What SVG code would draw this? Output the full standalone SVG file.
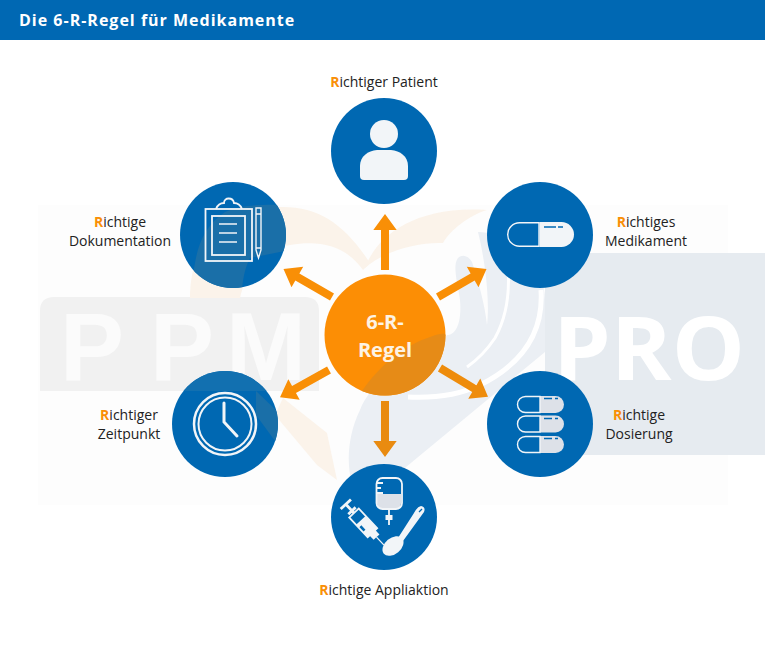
<svg xmlns="http://www.w3.org/2000/svg" width="765" height="660" viewBox="0 0 765 660">
<style>
text{font-family:"Open Sans","Liberation Sans",sans-serif}
.l{font-size:14px;fill:#222;text-anchor:middle}
.r{fill:#f98f06;font-weight:700}
.c{fill:#0068b2}
.i{fill:none;stroke:#f2f5f8;stroke-width:1.8}
.o{fill:none;stroke:#f2f5f8;stroke-width:1.400}
.f{fill:#f2f5f8}
.d{fill:#dde1e8}
.t{stroke:#0068b2;stroke-width:1.300;fill:none}
text.w{font-family:"Liberation Sans",sans-serif;fill:#fbfbfb;font-weight:700;font-size:96px}
.cream{fill:#fbf3ea}
</style>
<defs>
<path id="arrow" d="M-4 0V-40H-11.700L0-56 11.700-40H4V0Z"/>
<clipPath id="docClip"><circle cx="233" cy="235" r="53"/></clipPath>
<clipPath id="zeitClip"><circle cx="225" cy="424" r="53"/></clipPath>
</defs>
<rect width="765" height="660" fill="#fff"/>
<rect x="38" y="205" width="690" height="300" fill="#fdfdfd"/>
<g id="watermark">
<path d="M40 391V311Q40 297 54 297H305Q319 297 319 311V391Z" fill="#f1f1f1"/>
<path class="cream" d="M190 298C190 250 215 205 283 207C320 207 345 225 370 263L363 270C345 245 320 240 290 245C260 250 245 275 240 298Z"/>
<path class="cream" d="M365 268C375 240 410 205 487 210C470 215 450 230 443 243C420 242 385 250 365 268Z"/>
<path class="cream" d="M283 398L327 433 337 480 317 465 275 415Z"/>
<rect x="545" y="253" width="220" height="202" fill="#e6ebf0"/>
<path d="M478 232C515 232 545 270 545 300V352L400 472 360 500C345 480 345 440 360 410C370 385 395 365 440 345L447 335C455 335 462 325 460 300C458 285 452 265 458 258C462 254 468 255 472 262C478 280 485 305 487 325C490 300 485 260 478 232Z" fill="#ebeff4"/>
<path d="M508 268C510 295 505 320 495 338C487 350 477 360 467 367" fill="none" stroke="#fff" stroke-width="3"/>
<path d="M541 290C544 335 520 365 480 385C455 397 430 398 408 397" fill="none" stroke="#fff" stroke-width="5"/>
<text class="w" x="60" y="380" textLength="64" lengthAdjust="spacingAndGlyphs">P</text>
<text class="w" x="150" y="380" textLength="64" lengthAdjust="spacingAndGlyphs">P</text>
<text class="w" x="226" y="380" textLength="80" lengthAdjust="spacingAndGlyphs">M</text>
<text x="553" y="380" font-size="87" font-weight="700" fill="#fff" textLength="192" lengthAdjust="spacingAndGlyphs">PRO</text>
</g>
<g id="connectors" fill="#f98f06">
<use href="#arrow" transform="translate(385 270)"/>
<use href="#arrow" transform="translate(332 297) rotate(-60)"/>
<use href="#arrow" transform="translate(438 297) rotate(60)"/>
<use href="#arrow" transform="translate(329 370) rotate(-119)"/>
<use href="#arrow" transform="translate(440 368) rotate(121)" fill="#ee8c0c"/>
<use href="#arrow" transform="translate(385 401) rotate(180)" fill="#e98b10"/>
</g>
<g id="center"><circle cx="385" cy="335" r="60.500" fill="#fc8e05"/>
<path d="M362 391C380 365 405 345 430 337 440 333 445 333 445.500 335A60.500 60.500 0 0 1 362 391Z" fill="#e68b17"/>
<text x="385" y="329" text-anchor="middle" font-size="20" font-weight="700" fill="#fdf3e4">6-R-</text>
<text x="385" y="357" text-anchor="middle" font-size="20" font-weight="700" fill="#fdf3e4">Regel</text></g>
<g id="patient"><circle class="c" cx="384" cy="151" r="53"/>
<circle class="f" cx="384" cy="134" r="14"/>
<path class="f" d="M360 176V166C360 156 368 151 377 150H391C400 151 408 156 408 166V176Q408 180 404 180H364Q360 180 360 176Z"/>
<text class="l" x="384" y="87"><tspan class="r">R</tspan>ichtiger Patient</text></g>
<g id="dokumentation"><circle class="c" cx="233" cy="235" r="53"/>
<path clip-path="url(#docClip)" d="M195 263C198 245 205 225 225 212C240 205 260 204 290 205V250L250 258C245 268 243 278 242 290H190Z" fill="#1a6fa8"/>
<g class="i"><rect x="205.500" y="209" width="46.500" height="52"/><rect x="212" y="216" width="33" height="39"/><path d="M216 209C218 204 221 203 224 203C224 197 233 197 234 203C237 203 240 204 242 209"/><path d="M219 224H237M219 233H237M219 242H237" stroke-width="1.500"/><path d="M256 208H261V250L258.500 258 256 250ZM256 214H261M256 248H261" stroke-width="1.400"/></g>
<text class="l" x="120" y="227"><tspan class="r">R</tspan>ichtige</text><text class="l" x="120" y="246">Dokumentation</text></g>
<g id="medikament"><circle class="c" cx="540" cy="235" r="53"/>
<path class="f" d="M539.500 222H561.500A12.500 12.500 0 0 1 561.500 247H539.500Z"/>
<path class="o" d="M539 222.700H519.500A11.800 11.800 0 0 0 519.500 246.300H539Z"/>
<path d="M544 227H556M558 227H563" stroke="#0068b2" stroke-width="1.500"/>
<text class="l" x="646" y="227"><tspan class="r">R</tspan>ichtiges</text><text class="l" x="646" y="246">Medikament</text></g>
<g id="dosierung"><circle class="c" cx="540" cy="424" r="53"/>
<path class="d" d="M540 396H555.500A8.500 8.500 0 0 1 555.500 413H540Z"/><path class="o" d="M540 396.500H525.500A8 8 0 0 0 525.500 412.500H540Z"/><path class="t" d="M544 398.500H552M555 398.500H558"/>
<path class="d" d="M540 415.500H555.500A8.500 8.500 0 0 1 555.500 432.500H540Z"/><path class="o" d="M540 416H525.500A8 8 0 0 0 525.500 432H540Z"/><path class="t" d="M544 418.500H552M555 418.500H558"/>
<path class="d" d="M540 436H555.500A8.500 8.500 0 0 1 555.500 453H540Z"/><path class="o" d="M540 436.500H525.500A8 8 0 0 0 525.500 452.500H540Z"/><path class="t" d="M544 438.500H552M555 438.500H558"/>
<text class="l" x="639" y="420"><tspan class="r">R</tspan>ichtige</text><text class="l" x="639" y="439">Dosierung</text></g>
<g id="zeitpunkt"><circle class="c" cx="225" cy="424" r="53"/>
<g clip-path="url(#zeitClip)"><rect x="170" y="370" width="110" height="21" fill="#1270b0"/><path d="M256 391L278 412 278 445 256 415Z" fill="#1a6fa8"/></g>
<circle cx="225" cy="424" r="31" fill="none" stroke="#f2f5f8" stroke-width="2.500"/>
<circle cx="225" cy="424" r="26.500" fill="none" stroke="#f2f5f8" stroke-width="2"/>
<path d="M224 403V422L237 436" fill="none" stroke="#f2f5f8" stroke-width="3" stroke-linecap="round"/>
<text class="l" x="129" y="420"><tspan class="r">R</tspan>ichtiger</text><text class="l" x="129" y="439">Zeitpunkt</text></g>
<g id="applikation"><circle class="c" cx="384" cy="517" r="53"/>
<path class="d" d="M377 494H401V503Q401 509 395 509H383Q377 509 377 503Z"/>
<rect x="376.500" y="478" width="25.500" height="31" rx="6" class="i"/>
<path class="i" d="M377 483H383M377 488H381M377 493H383M389 509V515M389 520V525"/>
<rect class="f" x="385.500" y="515" width="7" height="5"/>
<ellipse class="f" cx="393" cy="546" rx="12" ry="8" transform="rotate(-40 393 546)"/>
<path class="f" d="M398 538L414 513Q417 507 421 506Q426 507 424 512L403 541Z"/>
<path d="M419 512L422 509" stroke="#0068b2" stroke-width="1.300"/>
<g transform="translate(354 513) rotate(47)"><rect x="0" y="-6.500" width="27" height="13" class="i" stroke-width="2"/><path class="f" d="M10-6.500H27V6.500H20V3H14V6.500H10Z"/><path d="M-12-7V7M-12 0H0M-3-5V5" fill="none" stroke="#f2f5f8" stroke-width="2.800"/><path class="f" d="M27-4H33V4H27Z"/><path d="M33 0H44" stroke="#f2f5f8" stroke-width="1.300"/></g>
<text class="l" x="384" y="595"><tspan class="r">R</tspan>ichtige Appliaktion</text></g>
<g id="header"><rect width="765" height="40" fill="#0068b3"/>
<text x="19" y="26" font-size="16" font-weight="700" letter-spacing="1" fill="#fff">Die 6-R-Regel für Medikamente</text></g>
</svg>
